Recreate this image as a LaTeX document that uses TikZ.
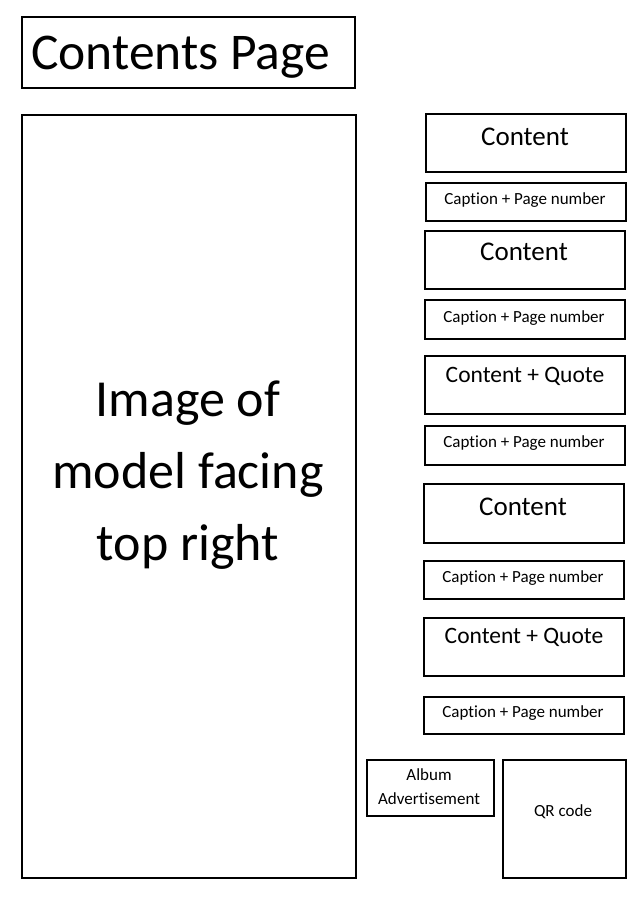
\documentclass[tikz,border=0pt]{standalone}
\usepackage{fontspec}
\setmainfont[Ligatures=NoCommon]{Carlito}
\usetikzlibrary{calc}
\begin{document}
\begin{tikzpicture}[x=1pt,y=-1pt,
  box/.style={draw=black,line width=1.6pt,rectangle,inner sep=0pt,anchor=north west},
  titlestyle/.style={font=\fontsize{51.5}{60}\selectfont,anchor=base west,inner sep=0pt},
  bigtxt/.style={font=\fontsize{52}{72}\selectfont,anchor=base,inner sep=0pt},
  midtxt/.style={font=\fontsize{27}{32}\selectfont,anchor=base,inner sep=0pt},
  quotetxt/.style={font=\fontsize{23.5}{28}\selectfont,anchor=base,inner sep=0pt},
  smalltxt/.style={font=\fontsize{17}{20}\selectfont,anchor=base,inner sep=0pt}]
\useasboundingbox (0,0) rectangle (638,902);
% title
\node[box,minimum width=333pt,minimum height=71pt] (title) at (21,16) {};
\node[titlestyle] (titletxt) at (31,69) {Contents Page};
% big image box
\node[box,minimum width=334pt,minimum height=763pt] (img) at (21,114) {};
\node[bigtxt] (img1) at (188,416) {Image of};
\node[bigtxt] (img2) at (188,488) {model facing};
\node[bigtxt] (img3) at (188,560) {top right};
% right column
\node[box,minimum width=200pt,minimum height=58pt] (c1) at (425,113) {};
\node[midtxt] (c1t) at (525,145) {Content};
\node[box,minimum width=200pt,minimum height=38pt] (p1) at (425,182) {};
\node[smalltxt] (p1t) at (525,204) {Caption + Page number};
\node[box,minimum width=200pt,minimum height=58pt] (c2) at (424,230) {};
\node[midtxt] (c2t) at (524,260) {Content};
\node[box,minimum width=200pt,minimum height=39pt] (p2) at (424,299) {};
\node[smalltxt] (p2t) at (524,322) {Caption + Page number};
\node[box,minimum width=200pt,minimum height=58pt] (c3) at (424,355) {};
\node[quotetxt] (c3t) at (525,382) {Content + Quote};
\node[box,minimum width=200pt,minimum height=39pt] (p3) at (424,425) {};
\node[smalltxt] (p3t) at (524,447) {Caption + Page number};
\node[box,minimum width=200pt,minimum height=59pt] (c4) at (423,483) {};
\node[midtxt] (c4t) at (523,515) {Content};
\node[box,minimum width=200pt,minimum height=38pt] (p4) at (423,560) {};
\node[smalltxt] (p4t) at (523,582) {Caption + Page number};
\node[box,minimum width=200pt,minimum height=58pt] (c5) at (423,617) {};
\node[quotetxt] (c5t) at (524,643) {Content + Quote};
\node[box,minimum width=200pt,minimum height=37pt] (p5) at (423,696) {};
\node[smalltxt] (p5t) at (523,717) {Caption + Page number};
% bottom
\node[box,minimum width=127pt,minimum height=56pt] (album) at (366,759) {};
\node[smalltxt] (albumt1) at (429,780) {Album};
\node[smalltxt] (albumt2) at (429,804) {Advertisement};
\node[box,minimum width=123pt,minimum height=118pt] (qr) at (502,759) {};
\node[smalltxt] (qrt) at (563,816) {QR code};
\end{tikzpicture}
\end{document}
